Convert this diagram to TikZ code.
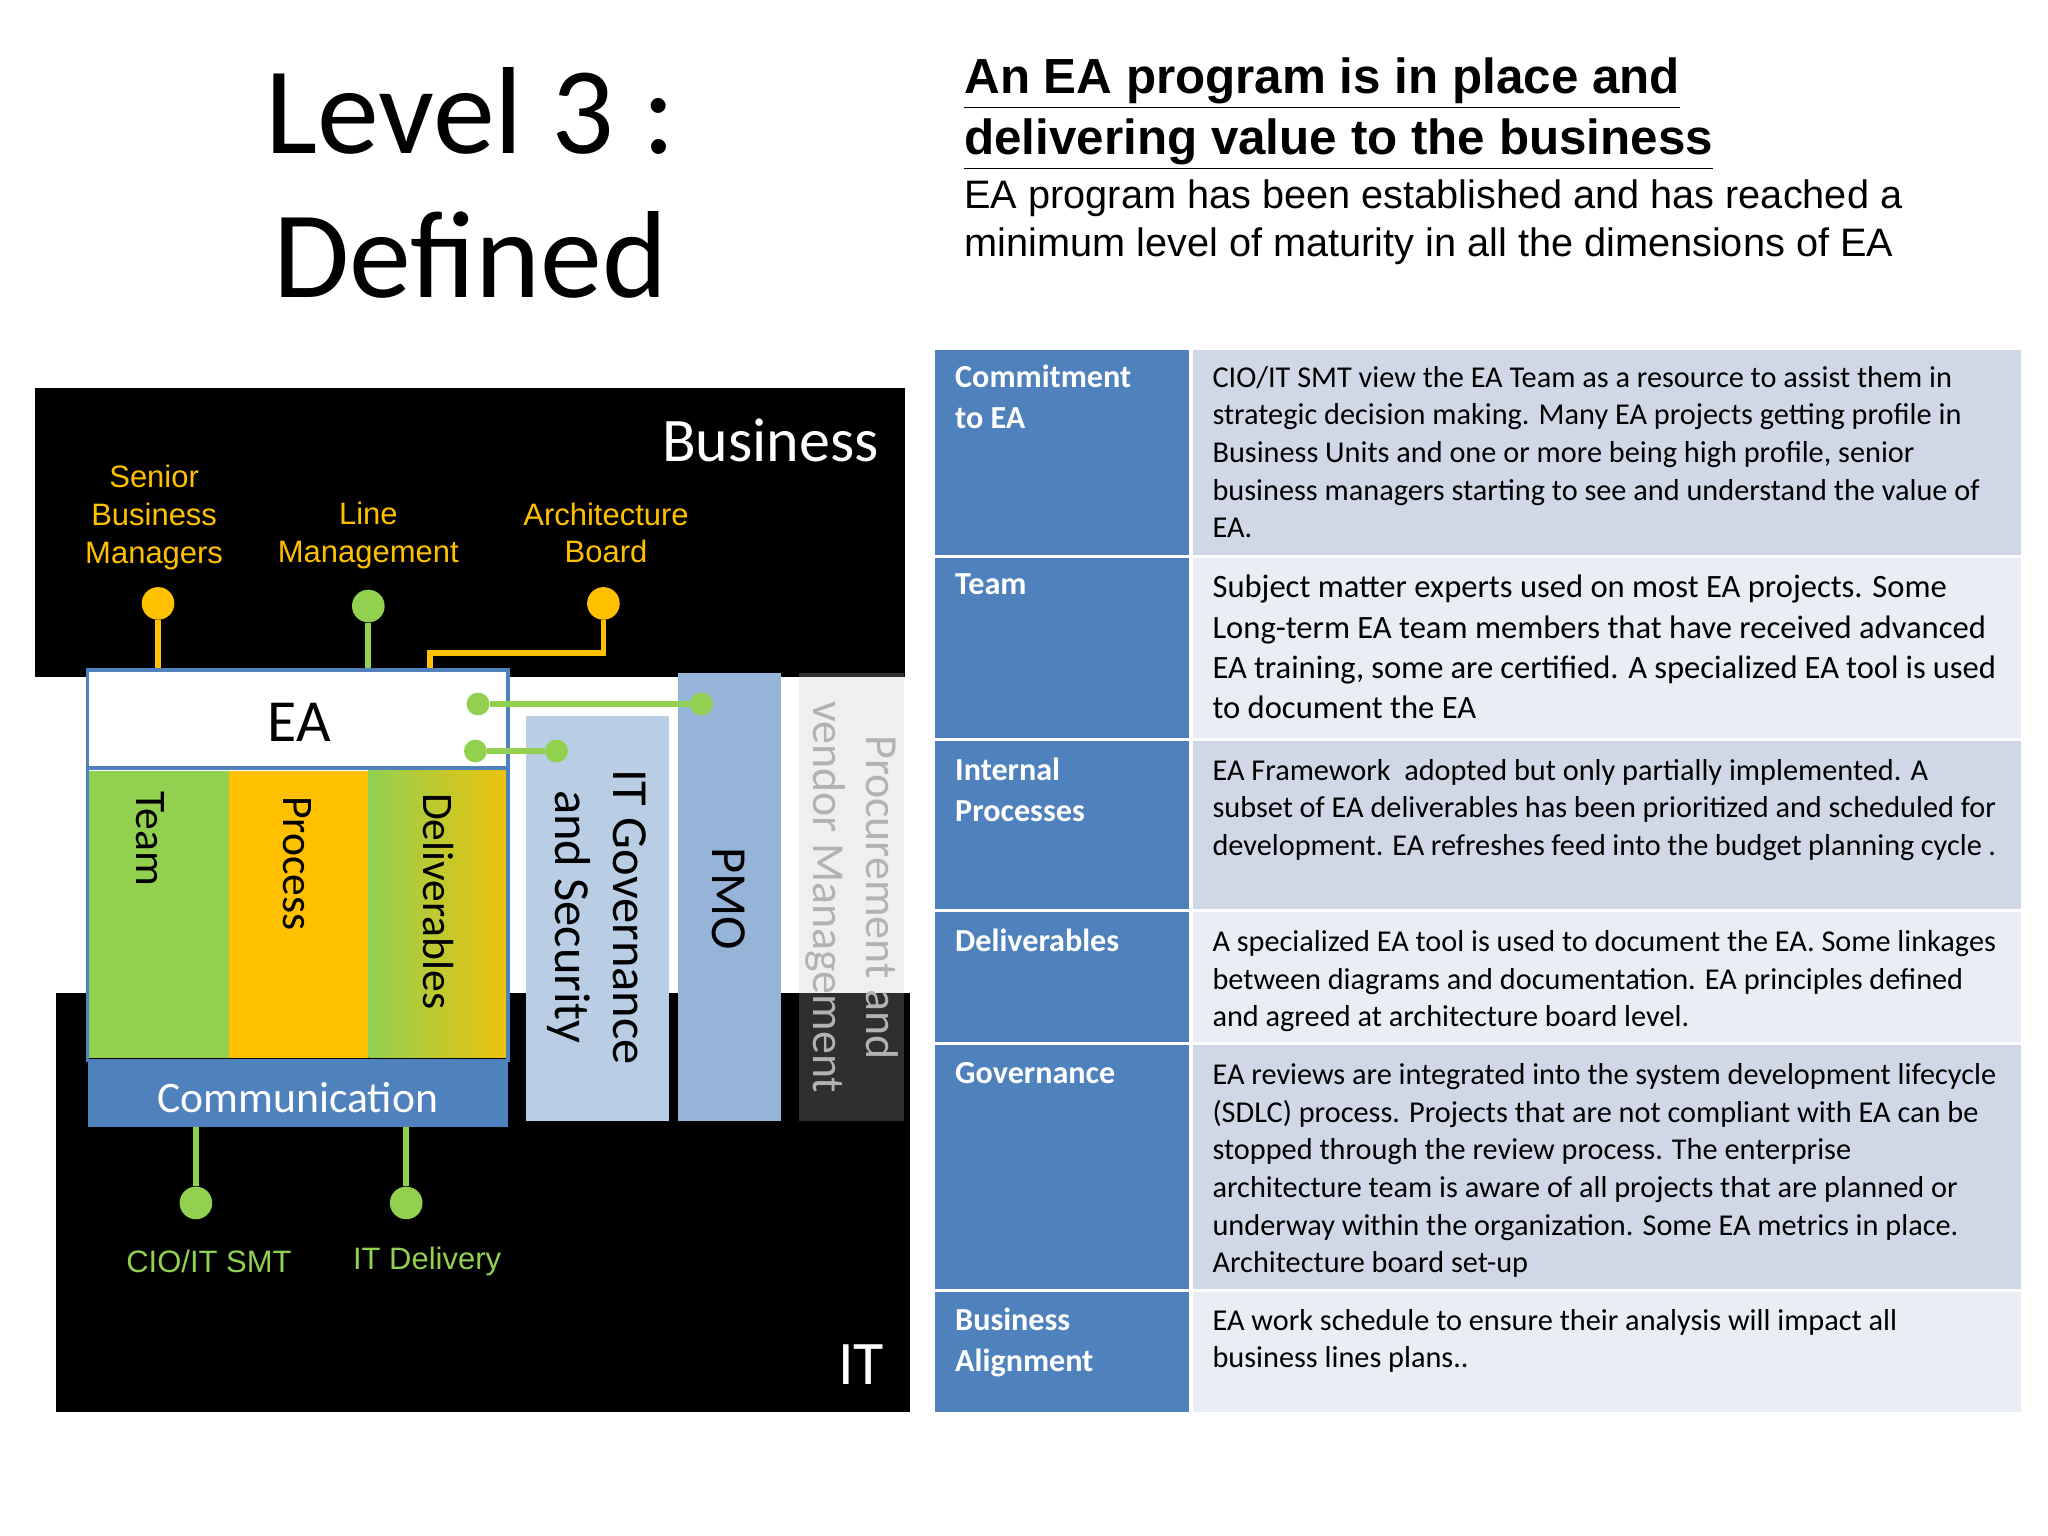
\documentclass[tikz,border=0pt]{standalone}
\usepackage{fontspec}
\setmainfont{Carlito}
\newfontfamily\arialf{Liberation Sans}
\begin{document}
\begin{tikzpicture}[x=0.02cm,y=-0.02cm,
  lab/.style={text=ylw,font=\fontsize{13.5}{16.5}\selectfont\arialf,align=center},
  glab/.style={text=grn,font=\fontsize{13.5}{16.5}\selectfont\arialf,align=center},
  hd/.style={anchor=north west,text=white,font=\fontsize{14}{18}\selectfont\bfseries,align=left,inner sep=0},
  bd/.style={anchor=north west,text width=12cm,font=\fontsize{13.2}{16.4}\selectfont,align=flush left,inner sep=0},
  dot/.style={circle,inner sep=0,minimum size=0.5cm},
  rot/.style={rotate=-90,align=center}]
\definecolor{ylw}{HTML}{FFC000}
\definecolor{grn}{HTML}{92D050}
\definecolor{eab}{HTML}{4F81BD}
\definecolor{dk}{HTML}{D0D8E8}
\definecolor{lt}{HTML}{E9EDF4}
\useasboundingbox (0,0) rectangle (1568,1176);
% titles
\node[font=\fontsize{54}{58}\selectfont] (t1) at (360,85) {Level 3 :};
\node[font=\fontsize{54}{58}\selectfont] (t2) at (360,195) {Defined};
\node[anchor=north west,inner sep=0,font=\fontsize{21.5}{26.5}\selectfont\arialf\bfseries,align=left] (h1) at (738,44) {\underline{An EA program is in place and}\\\underline{delivering value to the business}};
\node[anchor=north west,inner sep=0,font=\fontsize{17.3}{21}\selectfont\arialf,align=left] (h2) at (738,137) {EA program has been established and has reached a\\minimum level of maturity in all the dimensions of EA};
% black regions
\fill (27,297) rectangle (693,518);
\fill (43,760) rectangle (697,1081);
\node[anchor=east,text=white,font=\fontsize{27}{30}\selectfont] (bus) at (679,337) {Business};
\node[anchor=east,text=white,font=\fontsize{27}{30}\selectfont] (it) at (683,1045) {IT};
% labels
\node[lab] (sbm) at (118,396) {Senior\\Business\\Managers};
\node[lab] (lm) at (282,410) {Line\\Management};
\node[lab] (ab) at (464,408) {Architecture\\Board};
\node[dot,fill=ylw] (d1) at (121,462) {};
\node[dot,fill=grn] (d2) at (282,464) {};
\node[dot,fill=ylw] (d3) at (462,462) {};
\coordinate (c1) at (121,513);
\coordinate (c2) at (282,513);
\coordinate (c3) at (329,513);
\draw[ylw,line width=2.5pt] (d1) -- (c1);
\draw[grn,line width=2.5pt] (d2) -- (c2);
\draw[ylw,line width=2.5pt] (d3) -- (462,500) -- (329,500) -- (c3);
% columns
\fill[grn] (67,590) rectangle (175,810);
\fill[ylw] (175,590) rectangle (282,810);
\shade[left color=grn,right color=ylw!85!grn] (282,590) rectangle (389,810);
\draw[eab,line width=1.5pt,fill=white] (67,513) rectangle (389,588);
\draw[eab,line width=1.5pt] (67,513) rectangle (389,812);
\node[font=\fontsize{26}{30}\selectfont] (ea) at (229,553) {EA};
\node[rot,font=\fontsize{19}{22}\selectfont] (team) at (115,642) {Team};
\node[rot,font=\fontsize{19}{22}\selectfont] (proc) at (228,661) {Process};
\node[rot,font=\fontsize{19}{22}\selectfont] (del) at (336,690) {Deliverables};
\fill[eab] (67,812) rectangle (389,863);
\node[text=white,font=\fontsize{19}{22}\selectfont] (comm) at (228,840) {Communication};
% IT lines
\node[dot,fill=grn] (d4) at (150,921) {};
\node[dot,fill=grn] (d5) at (311,921) {};
\draw[grn,line width=2.5pt] (150,863) -- (d4);
\draw[grn,line width=2.5pt] (311,863) -- (d5);
\node[glab] (cio) at (160,966) {CIO/IT SMT};
\node[glab] (itd) at (327,966) {IT Delivery};
% boxes
\fill[eab!40] (403,548) rectangle (512,858);
\node[rot,font=\fontsize{22}{25}\selectfont] (gov) at (457,702) {IT Governance\\and Security};
\fill[eab!60] (519,515) rectangle (598,858);
\node[rot,font=\fontsize{22}{25}\selectfont] (pmo) at (558,688) {PMO};
\fill[gray!50,opacity=0.25] (612,515) rectangle (692,858);
\node[rot,text=gray!60,font=\fontsize{20}{23}\selectfont] (proc2) at (652,687) {Procurement and\\vendor Management};
% green connectors
\node[dot,fill=grn,minimum size=0.35cm] (e1) at (366,539) {};
\node[dot,fill=grn,minimum size=0.35cm] (e2) at (537,539) {};
\node[dot,fill=grn,minimum size=0.35cm] (e3) at (364,575) {};
\node[dot,fill=grn,minimum size=0.35cm] (e4) at (426,575) {};
\draw[grn,line width=2.5pt] (e1) -- (e2);
\draw[grn,line width=2.5pt] (e3) -- (e4);
% table
\fill[eab] (716,268) rectangle (911,1081);
\fill[dk] (911,268) rectangle (1547,426);
\fill[lt] (911,426) rectangle (1547,566);
\fill[dk] (911,566) rectangle (1547,697);
\fill[lt] (911,697) rectangle (1547,799);
\fill[dk] (911,799) rectangle (1547,988);
\fill[lt] (911,988) rectangle (1547,1081);
\foreach \yy in {426,566,697,799,988} \draw[white,line width=1.5pt] (716,\yy) -- (1547,\yy);
\draw[white,line width=1.5pt] (912,268) -- (912,1081);
\node[hd] (r1) at (731,279) {Commitment\\to EA};
\node[hd] (r2) at (731,439) {Team};
\node[hd] (r3) at (731,580) {Internal\\Processes};
\node[hd] (r4) at (731,711) {Deliverables};
\node[hd] (r5) at (731,813) {Governance};
\node[hd] (r6) at (731,1001) {Business\\Alignment};
\node[bd] (b1) at (928,280) {CIO/IT SMT view the EA Team as a resource to assist them in strategic decision making. Many EA projects getting profile in Business Units and one or more being high profile, senior business managers starting to see and understand the value of EA.};
\node[bd,font=\fontsize{14.2}{17.6}\selectfont] (b2) at (928,440) {Subject matter experts used on most EA projects. Some Long-term EA team members that have received advanced EA training, some are certified. A specialized EA tool is used to document the EA};
\node[bd] (b3) at (928,581) {EA Framework\ \ adopted but only partially implemented. A subset of EA deliverables has been prioritized and scheduled for development. EA refreshes feed into the budget planning cycle .};
\node[bd] (b4) at (928,712) {A specialized EA tool is used to document the EA. Some linkages between diagrams and documentation. EA principles defined and agreed at architecture board level.};
\node[bd] (b5) at (928,814) {EA reviews are integrated into the system development lifecycle (SDLC) process. Projects that are not compliant with EA can be stopped through the review process. The enterprise architecture team is aware of all projects that are planned or underway within the organization. Some EA metrics in place. Architecture board set-up};
\node[bd] (b6) at (928,1002) {EA work schedule to ensure their analysis will impact all business lines plans..};
\end{tikzpicture}
\end{document}
